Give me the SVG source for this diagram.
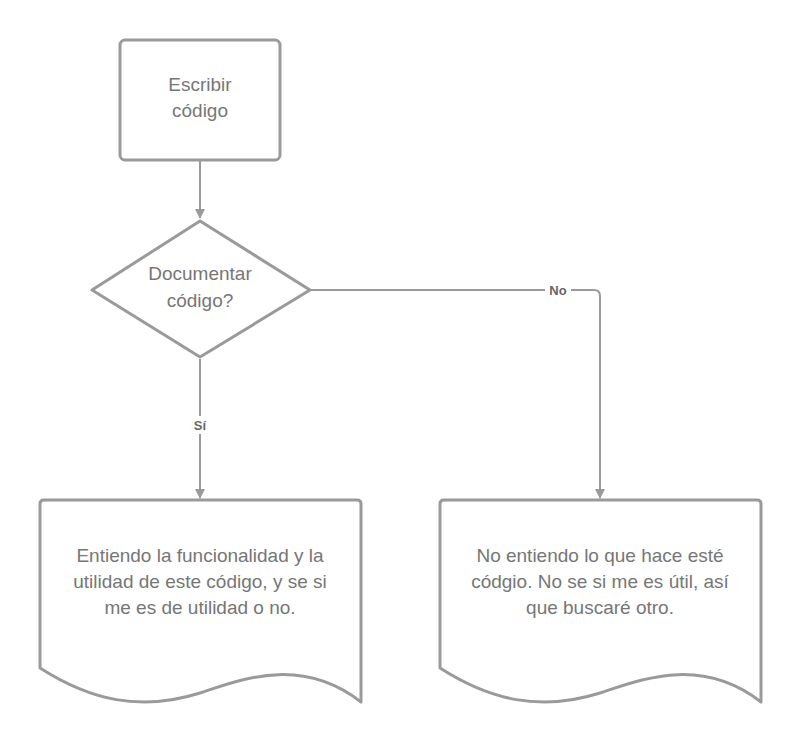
<svg xmlns="http://www.w3.org/2000/svg" width="800" height="744" viewBox="0 0 800 744">
<style>
.s{fill:#fff;stroke:#9a9a9a;stroke-width:3;stroke-linejoin:round}
.t{font-family:"Liberation Sans",Arial,sans-serif;font-size:19px;fill:#767676;text-anchor:middle}
.c{fill:none;stroke:#9a9a9a;stroke-width:2}
.l{font-family:"Liberation Sans",Arial,sans-serif;font-size:13px;font-weight:bold;fill:#666;text-anchor:middle}
</style>
<defs><marker id="a" markerWidth="10" markerHeight="10" refX="9" refY="5" orient="auto" markerUnits="userSpaceOnUse" viewBox="0 0 10 10"><path d="M0,0 L10,5 L0,10 z" fill="#9a9a9a"/></marker></defs>
<rect width="800" height="744" fill="#fff"/>
<g id="connectors">
<path class="c" d="M200,161 V218" marker-end="url(#a)" transform="translate(0,0)"/>
<path class="c" d="M200,359 V498" marker-end="url(#a)"/>
<rect x="188" y="416" width="24" height="18" fill="#fff"/>
<text class="l" x="200" y="430">Sí</text>
<path class="c" d="M311,290 H594 Q600,290 600,296 V498" marker-end="url(#a)"/>
<rect x="545" y="282" width="26" height="16" fill="#fff"/>
<text class="l" x="558" y="295">No</text>
</g>
<g id="n1"><rect class="s" x="120" y="40" width="160" height="120" rx="5"/>
<text class="t" x="200" y="91">Escribir</text><text class="t" x="200" y="117">código</text></g>
<g id="n2"><path class="s" d="M200,221 L310,290 L200,357 L92,290 Z"/>
<text class="t" x="200" y="280">Documentar</text><text class="t" x="200" y="307">código?</text></g>
<g id="n3"><path class="s" d="M44,500 H357 Q361,500 361,504 V702 C300,655 240,680 200,693 C140,712 90,700 40,668 V504 Q40,500 44,500 Z"/>
<text class="t" x="200" y="562">Entiendo la funcionalidad y la</text>
<text class="t" x="200" y="588">utilidad de este código, y se si</text>
<text class="t" x="200" y="614">me es de utilidad o no.</text></g>
<g id="n4"><path class="s" d="M444,500 H757 Q761,500 761,504 V702 C700,655 640,680 600,693 C540,712 490,700 440,668 V504 Q440,500 444,500 Z"/>
<text class="t" x="600" y="562">No entiendo lo que hace esté</text>
<text class="t" x="600" y="588">códgio. No se si me es útil, así</text>
<text class="t" x="600" y="614">que buscaré otro.</text></g>
</svg>
